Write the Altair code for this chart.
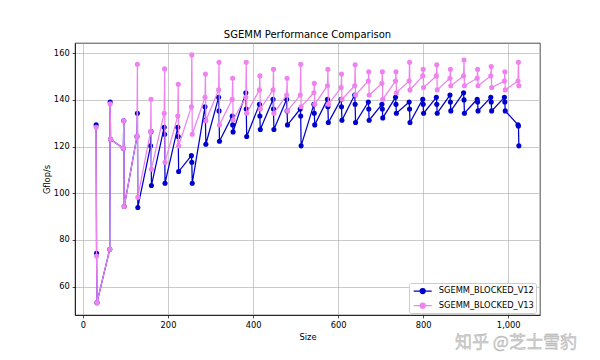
import altair as alt
import pandas as pd

sizes = [31, 32, 33, 63, 64, 65, 95, 96, 97, 127, 128, 129,
         159, 160, 161, 191, 192, 193, 223, 224, 225, 255, 256, 257,
         287, 288, 289, 319, 320, 321, 351, 352, 353, 383, 384, 385,
         415, 416, 417, 447, 448, 449, 479, 480, 481, 511, 512, 513,
         543, 544, 545, 575, 576, 577, 607, 608, 609, 639, 640, 641,
         671, 672, 673, 703, 704, 705, 735, 736, 737, 767, 768, 769,
         799, 800, 801, 831, 832, 833, 863, 864, 865, 895, 896, 897,
         927, 928, 929, 959, 960, 961, 991, 992, 993, 1023, 1024, 1025]

v12 = [129.3, 74.3, 53.1, 76.0, 139.1, 123.1, 119.3, 131.1, 94.3, 124.3, 134.3, 93.9,
       120.3, 126.4, 103.3, 128.3, 125.3, 104.3, 128.3, 124.3, 109.3, 116.1, 113.3, 104.3,
       137.1, 131.3, 121.0, 141.1, 135.3, 122.3, 133.1, 129.3, 126.3, 143.1, 136.1, 124.3,
       138.1, 133.1, 127.3, 140.3, 136.1, 127.3, 140.3, 135.3, 129.3, 136.1, 133.1, 120.3,
       138.1, 134.3, 129.3, 140.3, 137.1, 130.3, 140.3, 137.1, 131.3, 142.1, 138.1, 130.3,
       139.1, 136.1, 131.3, 138.1, 136.1, 132.3, 141.1, 138.1, 134.3, 139.1, 136.1, 130.3,
       140.3, 138.1, 134.3, 141.1, 138.1, 134.3, 142.1, 139.1, 135.3, 143.1, 140.0, 134.3,
       140.3, 139.1, 135.3, 141.1, 139.1, 135.3, 141.1, 139.1, 135.3, 129.3, 128.8, 120.3]

v13 = [128.3, 73.1, 53.1, 76.0, 138.3, 123.1, 119.3, 131.1, 94.3, 124.3, 155.3, 98.3,
       126.4, 140.3, 110.3, 134.3, 153.3, 113.3, 133.1, 146.7, 120.3, 137.1, 159.3, 125.3,
       141.1, 151.1, 131.1, 144.3, 156.1, 129.3, 140.3, 149.3, 131.4, 141.1, 156.1, 134.3,
       144.3, 150.3, 136.1, 144.3, 153.1, 134.3, 142.1, 149.3, 135.3, 142.1, 155.3, 137.1,
       143.1, 147.1, 138.1, 146.1, 153.1, 138.1, 145.3, 151.1, 140.3, 146.1, 155.1, 142.1,
       148.1, 152.1, 142.1, 147.1, 152.1, 140.3, 148.1, 152.1, 143.1, 148.1, 156.1, 144.3,
       150.3, 153.1, 145.3, 150.3, 155.1, 144.3, 149.3, 153.1, 146.1, 150.3, 157.1, 146.1,
       149.3, 153.1, 146.1, 150.3, 154.3, 145.3, 148.1, 152.1, 144.3, 148.1, 156.1, 146.1]

series_names = ["SGEMM_BLOCKED_V12", "SGEMM_BLOCKED_V13"]
series_colors = ["#0000cd", "#ee82ee"]
x_ticks = [0, 200, 400, 600, 800, 1000]
y_ticks = [60, 80, 100, 120, 140, 160]
title_text = "SGEMM Performance Comparison"
watermark = "知乎 @芝士雪豹"

df = pd.DataFrame({
    "size": sizes * 2,
    "gflops": v12 + v13,
    "series": [series_names[0]] * len(sizes) + [series_names[1]] * len(sizes),
})

legend_path = ("M-0.66,0 L2.94,0 M1.64,0 A0.5,0.5 0 1,1 0.64,0 "
               "A0.5,0.5 0 1,1 1.64,0 Z")

x_enc = alt.X("size:Q",
              scale=alt.Scale(domain=[-18.7, 1074.7], nice=False, zero=False),
              axis=alt.Axis(title="Size", values=x_ticks, titlePadding=3.4))
y_enc = alt.Y("gflops:Q",
              scale=alt.Scale(domain=[47.8, 164.4], nice=False, zero=False),
              axis=alt.Axis(title="Gflop/s", values=y_ticks, titlePadding=2))
color_enc = alt.Color(
    "series:N",
    scale=alt.Scale(domain=series_names, range=series_colors),
    legend=alt.Legend(
        title=None, orient="none", legendX=334, legendY=240,
        padding=2, strokeColor="#cccccc", fillColor="white", cornerRadius=2,
        symbolType=legend_path, symbolSize=100, symbolStrokeWidth=1.25,
        symbolOpacity=1, labelOffset=15.7, rowPadding=2.7,
        labelFontSize=8.3, labelFont="DejaVu Sans", labelColor="black",
        labelLimit=0,
    ),
)

base = alt.Chart(df).encode(x=x_enc, y=y_enc, color=color_enc)
layers = []
for name in series_names:
    sub = base.transform_filter(alt.datum.series == name)
    layers.append(sub.mark_line(strokeWidth=1.25))
    layers.append(sub.mark_point(filled=True, size=26, opacity=1))

wm = alt.Chart(pd.DataFrame({"t": [watermark]})).mark_text(
    align="left", baseline="middle", fontSize=17, font="Noto Sans CJK SC",
    color="#d4d4d4", stroke="#b0b0b0", strokeWidth=0.4,
).encode(x=alt.value(380), y=alt.value(300), text="t:N")
layers.append(wm)

chart = alt.layer(*layers).properties(
    width=465, height=272,
    title=alt.TitleParams(title_text, fontSize=10, fontWeight="normal",
                          font="DejaVu Sans", color="black", anchor="middle",
                          baseline="alphabetic", offset=-5),
    autosize=alt.AutoSizeParams(type="none"),
    padding={"left": 67, "top": 35, "right": 52, "bottom": 45},
).configure(font="DejaVu Sans").configure_view(
    stroke="black", strokeWidth=0.7
).configure_axis(
    domainColor="black", domainWidth=0.7, tickColor="black", tickWidth=0.7,
    tickSize=2.9, labelPadding=2.9, labelFontSize=8.3, labelColor="black",
    labelFont="DejaVu Sans", titleFont="DejaVu Sans",
    titleFontSize=8.3, titleFontWeight="normal", titleColor="black",
    gridColor="#b0b0b0", gridWidth=0.67, labelFlush=False, labelOverlap=False,
)

chart.save("out.html", embed_options={"renderer": "svg", "actions": False})
